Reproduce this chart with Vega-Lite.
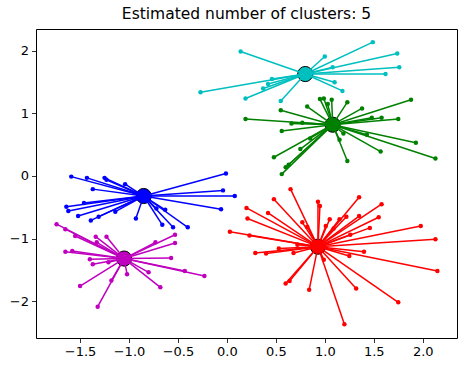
{
  "$schema": "https://vega.github.io/schema/vega-lite/v6.json",
  "width": 421,
  "height": 309,
  "autosize": {"type": "none"},
  "padding": {"left": 36, "top": 29, "right": 17, "bottom": 32},
  "background": "white",
  "title": {"text": "Estimated number of clusters: 5", "font": "DejaVu Sans", "fontSize": 15.5, "fontWeight": "normal", "color": "black", "offset": 7},
  "config": {
    "view": {"stroke": "black", "strokeWidth": 1},
    "axis": {"grid": false, "domain": false, "tickColor": "black", "tickSize": 4.5, "tickWidth": 0.8, "labelFont": "DejaVu Sans", "labelFontSize": 13, "labelColor": "black", "title": null, "labelPadding": 3}
  },
  "datasets": {
    "centers": [
      {"c": "b", "cx": -0.85, "cy": -0.32},
      {"c": "g", "cx": 1.08, "cy": 0.82},
      {"c": "r", "cx": 0.93, "cy": -1.13},
      {"c": "c", "cx": 0.80, "cy": 1.63},
      {"c": "m", "cx": -1.05, "cy": -1.32}
    ],
    "pts": [
      {"c": "b", "x": -1.59, "y": -0.01}, {"c": "b", "x": -1.43, "y": -0.03}, {"c": "b", "x": -1.25, "y": -0.03},
      {"c": "b", "x": -1.23, "y": -0.06}, {"c": "b", "x": -1.04, "y": -0.13}, {"c": "b", "x": -1.37, "y": -0.21},
      {"c": "b", "x": -0.01, "y": 0.04}, {"c": "b", "x": -0.04, "y": -0.23}, {"c": "b", "x": 0.08, "y": -0.32},
      {"c": "b", "x": -0.06, "y": -0.53}, {"c": "b", "x": -1.64, "y": -0.49}, {"c": "b", "x": -1.46, "y": -0.43},
      {"c": "b", "x": -1.62, "y": -0.56}, {"c": "b", "x": -1.52, "y": -0.64}, {"c": "b", "x": -1.39, "y": -0.71},
      {"c": "b", "x": -1.31, "y": -0.65}, {"c": "b", "x": -1.14, "y": -0.57}, {"c": "b", "x": -0.93, "y": -0.68},
      {"c": "b", "x": -0.66, "y": -0.78}, {"c": "b", "x": -0.55, "y": -0.82}, {"c": "b", "x": -0.40, "y": -0.82},
      {"c": "b", "x": -0.63, "y": -0.54}, {"c": "b", "x": -0.72, "y": -0.52},
      {"c": "g", "x": 1.88, "y": 1.22}, {"c": "g", "x": 0.19, "y": 0.91}, {"c": "g", "x": 0.55, "y": 1.05},
      {"c": "g", "x": 0.82, "y": 1.11}, {"c": "g", "x": 0.95, "y": 1.23}, {"c": "g", "x": 0.99, "y": 1.24},
      {"c": "g", "x": 1.03, "y": 1.15}, {"c": "g", "x": 1.07, "y": 1.22}, {"c": "g", "x": 1.23, "y": 1.18},
      {"c": "g", "x": 1.38, "y": 1.08}, {"c": "g", "x": 1.75, "y": 0.91}, {"c": "g", "x": 1.58, "y": 0.93},
      {"c": "g", "x": 1.48, "y": 0.93}, {"c": "g", "x": 0.56, "y": 0.72}, {"c": "g", "x": 0.66, "y": 0.84},
      {"c": "g", "x": 0.77, "y": 0.85}, {"c": "g", "x": 1.93, "y": 0.53}, {"c": "g", "x": 2.13, "y": 0.28},
      {"c": "g", "x": 1.43, "y": 0.66}, {"c": "g", "x": 1.57, "y": 0.39}, {"c": "g", "x": 1.23, "y": 0.24},
      {"c": "g", "x": 1.15, "y": 0.58}, {"c": "g", "x": 1.19, "y": 0.68}, {"c": "g", "x": 0.48, "y": 0.30},
      {"c": "g", "x": 0.75, "y": 0.43}, {"c": "g", "x": 0.60, "y": 0.14}, {"c": "g", "x": 0.63, "y": 0.18},
      {"c": "g", "x": 0.56, "y": 0.03}, {"c": "g", "x": 0.85, "y": 0.60},
      {"c": "r", "x": 0.65, "y": -0.21}, {"c": "r", "x": 0.48, "y": -0.37}, {"c": "r", "x": 0.20, "y": -0.51},
      {"c": "r", "x": 0.21, "y": -0.68}, {"c": "r", "x": 0.42, "y": -0.59}, {"c": "r", "x": 0.03, "y": -0.89},
      {"c": "r", "x": 0.23, "y": -0.95}, {"c": "r", "x": 0.29, "y": -1.23}, {"c": "r", "x": 0.40, "y": -1.24},
      {"c": "r", "x": 0.53, "y": -1.16}, {"c": "r", "x": 0.68, "y": -1.23}, {"c": "r", "x": 0.77, "y": -0.74},
      {"c": "r", "x": 0.82, "y": -0.81}, {"c": "r", "x": 0.93, "y": -0.41}, {"c": "r", "x": 0.95, "y": -0.48},
      {"c": "r", "x": 1.05, "y": -0.69}, {"c": "r", "x": 1.01, "y": -0.80}, {"c": "r", "x": 1.15, "y": -0.69},
      {"c": "r", "x": 1.22, "y": -0.65}, {"c": "r", "x": 1.35, "y": -0.34}, {"c": "r", "x": 1.58, "y": -0.45},
      {"c": "r", "x": 1.55, "y": -0.66}, {"c": "r", "x": 1.35, "y": -0.64}, {"c": "r", "x": 1.46, "y": -0.83},
      {"c": "r", "x": 1.26, "y": -0.94}, {"c": "r", "x": 1.98, "y": -0.80}, {"c": "r", "x": 2.13, "y": -1.01},
      {"c": "r", "x": 1.40, "y": -1.21}, {"c": "r", "x": 1.25, "y": -1.28}, {"c": "r", "x": 2.15, "y": -1.52},
      {"c": "r", "x": 0.60, "y": -1.72}, {"c": "r", "x": 0.64, "y": -1.68}, {"c": "r", "x": 0.84, "y": -1.82},
      {"c": "r", "x": 0.99, "y": -1.34}, {"c": "r", "x": 1.32, "y": -1.80}, {"c": "r", "x": 1.75, "y": -2.02},
      {"c": "r", "x": 1.20, "y": -2.37}, {"c": "r", "x": 0.72, "y": -1.10}, {"c": "r", "x": 1.09, "y": -0.84},
      {"c": "c", "x": 1.49, "y": 2.14}, {"c": "c", "x": 0.14, "y": 1.99}, {"c": "c", "x": 1.00, "y": 1.91},
      {"c": "c", "x": 1.74, "y": 1.96}, {"c": "c", "x": 1.76, "y": 1.74}, {"c": "c", "x": 1.08, "y": 1.74},
      {"c": "c", "x": 1.62, "y": 1.63}, {"c": "c", "x": -0.27, "y": 1.34}, {"c": "c", "x": 0.46, "y": 1.55},
      {"c": "c", "x": 0.42, "y": 1.47}, {"c": "c", "x": 0.37, "y": 1.40}, {"c": "c", "x": 0.19, "y": 1.24},
      {"c": "c", "x": 0.55, "y": 1.20}, {"c": "c", "x": 1.10, "y": 1.50}, {"c": "c", "x": 1.18, "y": 1.36},
      {"c": "m", "x": -1.74, "y": -0.77}, {"c": "m", "x": -1.65, "y": -0.85}, {"c": "m", "x": -1.55, "y": -0.96},
      {"c": "m", "x": -1.34, "y": -0.97}, {"c": "m", "x": -1.23, "y": -0.97}, {"c": "m", "x": -1.33, "y": -1.06},
      {"c": "m", "x": -1.65, "y": -1.21}, {"c": "m", "x": -1.58, "y": -1.20}, {"c": "m", "x": -1.40, "y": -1.33},
      {"c": "m", "x": -1.37, "y": -1.41}, {"c": "m", "x": -1.21, "y": -1.38}, {"c": "m", "x": -0.53, "y": -0.94},
      {"c": "m", "x": -0.73, "y": -1.06}, {"c": "m", "x": -0.53, "y": -1.07}, {"c": "m", "x": -0.57, "y": -1.31},
      {"c": "m", "x": -0.23, "y": -1.60}, {"c": "m", "x": -0.43, "y": -1.52}, {"c": "m", "x": -0.80, "y": -1.54},
      {"c": "m", "x": -0.68, "y": -1.78}, {"c": "m", "x": -1.02, "y": -1.57}, {"c": "m", "x": -1.50, "y": -1.76},
      {"c": "m", "x": -1.32, "y": -2.09}, {"c": "m", "x": -1.18, "y": -1.67}
    ]
  },
  "layer": [
    {
      "data": {"name": "pts"},
      "mark": {"type": "circle", "size": 20, "opacity": 1},
      "encoding": {
        "x": {"field": "x", "type": "quantitative", "scale": {"domain": [-1.95, 2.35], "nice": false, "zero": false}, "axis": {"values": [-1.5, -1, -0.5, 0, 0.5, 1, 1.5, 2], "format": ".1f"}},
        "y": {"field": "y", "type": "quantitative", "scale": {"domain": [-2.59, 2.35], "nice": false, "zero": false}, "axis": {"values": [-2, -1, 0, 1, 2], "format": "d"}},
        "color": {"field": "c", "type": "nominal", "scale": {"domain": ["b", "g", "r", "c", "m"], "range": ["#0000ff", "#008000", "#ff0000", "#00bfbf", "#bf00bf"]}, "legend": null}
      }
    },
    {
      "data": {"name": "centers"},
      "mark": {"type": "circle", "size": 230, "opacity": 1, "stroke": "black", "strokeWidth": 1},
      "encoding": {
        "x": {"field": "cx", "type": "quantitative"},
        "y": {"field": "cy", "type": "quantitative"},
        "fill": {"field": "c", "type": "nominal", "scale": {"domain": ["b", "g", "r", "c", "m"], "range": ["#0000ff", "#008000", "#ff0000", "#00bfbf", "#bf00bf"]}, "legend": null}
      }
    },
    {
      "data": {"name": "pts"},
      "transform": [
        {"lookup": "c", "from": {"data": {"name": "centers"}, "key": "c", "fields": ["cx", "cy"]}}
      ],
      "mark": {"type": "rule", "strokeWidth": 1.5},
      "encoding": {
        "x": {"field": "cx", "type": "quantitative"},
        "y": {"field": "cy", "type": "quantitative"},
        "x2": {"field": "x"},
        "y2": {"field": "y"},
        "color": {"field": "c", "type": "nominal", "legend": null}
      }
    }
  ]
}
